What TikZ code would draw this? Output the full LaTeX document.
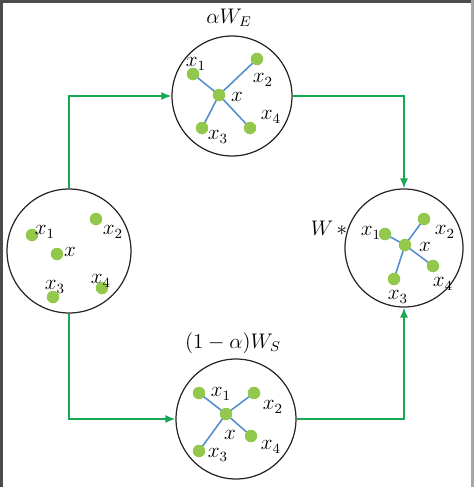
\documentclass[tikz,border=0pt]{standalone}
\usepackage{tikz}
\usetikzlibrary{arrows.meta,backgrounds}
\definecolor{dotgreen}{RGB}{146,200,76}
\definecolor{linkblue}{RGB}{84,142,204}
\definecolor{flowgreen}{RGB}{22,168,82}

\begin{document}
\begin{tikzpicture}[
  x=0.02cm, y=-0.02cm,
  ring/.style={draw=black!85,line width=0.7pt,circle,inner sep=0pt},
  pt/.style={circle,fill=dotgreen,inner sep=0pt,minimum size=0.25cm},
  lbl/.style={font=\large,inner sep=0pt},
  link/.style={draw=linkblue,line width=0.9pt},
  arrow/.style={-{Latex[length=2mm,width=1.6mm]},draw=flowgreen,line width=0.9pt}
]
  \useasboundingbox (0,0) rectangle (474,487);
  \fill[black!70] (0,0) rectangle (3,487);
  \fill[black!70] (0,0) rectangle (474,3);
  \fill[black!35] (471,0) rectangle (474,487);

  % the four groups
  \node[ring,minimum size=2.48cm] (data) at (69,251) {};
  \node[ring,minimum size=2.4cm] (WE) at (232,96) {};
  \node[ring,minimum size=2.4cm] (WS) at (236,419) {};
  \node[ring,minimum size=2.36cm] (Wstar) at (404,248) {};

  \node[lbl] (WElbl) at (229,18) {$\alpha W_E$};
  \node[lbl] (WSlbl) at (233,343) {$(1-\alpha)W_S$};
  \node[lbl] (Wstarlbl) at (329,228) {$W\,*$};

  % left: raw samples
  \node[pt] (d1) at (32,235) {};
  \node[pt] (d2) at (96,219) {};
  \node[pt] (d0) at (57,254) {};
  \node[pt] (d3) at (53,297) {};
  \node[pt] (d4) at (102,288) {};
  \node[lbl] (d1l) at (45,232) {$x_1$};
  \node[lbl] (d2l) at (113,232) {$x_2$};
  \node[lbl] (d0l) at (70,252) {$x$};
  \node[lbl] (d3l) at (55,287) {$x_3$};
  \node[lbl] (d4l) at (101,281) {$x_4$};

  % top: W_E
  \node[pt] (e1) at (193,74) {};
  \node[pt] (e2) at (257,59) {};
  \node[pt] (e0) at (219,95) {};
  \node[pt] (e3) at (202,128) {};
  \node[pt] (e4) at (250,128) {};
  \node[lbl] (e1l) at (196,64) {$x_1$};
  \node[lbl] (e2l) at (263,80) {$x_2$};
  \node[lbl] (e0l) at (237,97) {$x$};
  \node[lbl] (e3l) at (218,137) {$x_3$};
  \node[lbl] (e4l) at (271,117) {$x_4$};

  % bottom: W_S
  \node[pt] (s1) at (199,393) {};
  \node[pt] (s2) at (254,393) {};
  \node[pt] (s0) at (226,414) {};
  \node[pt] (s3) at (199,451) {};
  \node[pt] (s4) at (251,436) {};
  \node[lbl] (s1l) at (221,394) {$x_1$};
  \node[lbl] (s2l) at (273,407) {$x_2$};
  \node[lbl] (s0l) at (230,435) {$x$};
  \node[lbl] (s3l) at (218,455) {$x_3$};
  \node[lbl] (s4l) at (271,447) {$x_4$};

  % right: W*
  \node[pt] (w1) at (385,234) {};
  \node[pt] (w2) at (424,219) {};
  \node[pt] (w0) at (405,245) {};
  \node[pt] (w3) at (394,279) {};
  \node[pt] (w4) at (433,266) {};
  \node[lbl] (w1l) at (371,233) {$x_1$};
  \node[lbl] (w2l) at (445,232) {$x_2$};
  \node[lbl] (w0l) at (425,247) {$x$};
  \node[lbl] (w3l) at (398,297) {$x_3$};
  \node[lbl] (w4l) at (443,284) {$x_4$};

  \begin{scope}[on background layer]
    \draw[link] (e0.center) -- (e1.center) (e0.center) -- (e2.center)
                (e0.center) -- (e3.center) (e0.center) -- (e4.center);
    \draw[link] (s0.center) -- (s1.center) (s0.center) -- (s2.center)
                (s0.center) -- (s3.center) (s0.center) -- (s4.center);
    \draw[link] (w0.center) -- (w1.center) (w0.center) -- (w2.center)
                (w0.center) -- (w3.center) (w0.center) -- (w4.center);
  \end{scope}

  \draw[arrow] (data.north) |- (WE.west);
  \draw[arrow] (WE.east) -| (Wstar.north);
  \draw[arrow] (data.south) |- (WS.west);
  \draw[arrow] (WS.east) -| (Wstar.south);
\end{tikzpicture}
\end{document}
